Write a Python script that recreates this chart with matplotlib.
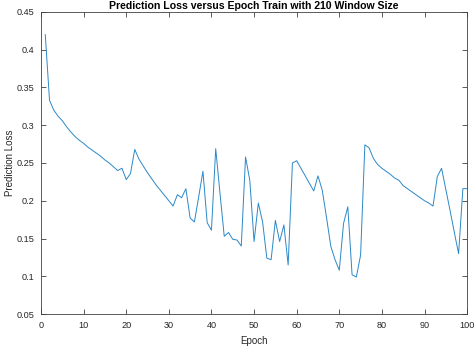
import matplotlib
matplotlib.use('Agg')
import matplotlib.pyplot as plt

plt.rcParams['font.family'] = ['Liberation Sans', 'DejaVu Sans']

# Loss per epoch
epochs = list(range(1, 101))
loss = [
    0.420, 0.333, 0.320, 0.312, 0.306, 0.298, 0.291, 0.285, 0.280, 0.276,
    0.271, 0.267, 0.263, 0.259, 0.254, 0.250, 0.245, 0.240, 0.243, 0.228,
    0.236, 0.268, 0.255, 0.246, 0.237, 0.229, 0.221, 0.214, 0.207, 0.200,
    0.193, 0.208, 0.204, 0.216, 0.177, 0.172, 0.205, 0.239, 0.171, 0.161,
    0.269, 0.210, 0.153, 0.158, 0.149, 0.148, 0.140, 0.258, 0.227, 0.146,
    0.197, 0.172, 0.124, 0.122, 0.174, 0.146, 0.168, 0.115, 0.250, 0.253,
    0.243, 0.233, 0.223, 0.213, 0.233, 0.214, 0.178, 0.140, 0.122, 0.108,
    0.170, 0.192, 0.102, 0.099, 0.128, 0.274, 0.270, 0.256, 0.248, 0.243,
    0.239, 0.235, 0.230, 0.227, 0.220, 0.216, 0.212, 0.208, 0.204, 0.200,
    0.197, 0.193, 0.232, 0.243, 0.215, 0.187, 0.158, 0.130, 0.216, 0.216,
]
xticks = list(range(0, 101, 10))
yticks = [0.05, 0.1, 0.15, 0.2, 0.25, 0.3, 0.35, 0.4, 0.45]
ytick_labels = ['0.05', '0.1', '0.15', '0.2', '0.25', '0.3', '0.35', '0.4', '0.45']

fig = plt.figure(figsize=(4.74, 3.61), dpi=100)
ax = fig.add_axes([0.0865, 0.130, 0.899, 0.837])

ax.plot(epochs, loss, color='#2a88c8', linewidth=0.7)

ax.set_xlim(0, 100)
ax.set_ylim(0.05, 0.45)
ax.set_xticks(xticks)
ax.set_yticks(yticks)
ax.set_yticklabels(ytick_labels)
ax.tick_params(direction='in', length=3.5, width=0.6, color='#404040',
               labelsize=6.6, labelcolor='#262626', top=True, right=True)
ax.tick_params(axis='x', pad=5)
ax.tick_params(axis='y', pad=5)
for s in ax.spines.values():
    s.set_color('#404040')
    s.set_linewidth(0.6)

ax.set_xlabel('Epoch', fontsize=7, color='#262626', labelpad=4)
ax.set_ylabel('Prediction Loss', fontsize=7, color='#262626', labelpad=0.5)
ax.set_title('Prediction Loss versus Epoch Train with 210 Window Size',
             fontsize=7.55, fontweight='bold', pad=2)

fig.savefig('out.png', dpi=100)
